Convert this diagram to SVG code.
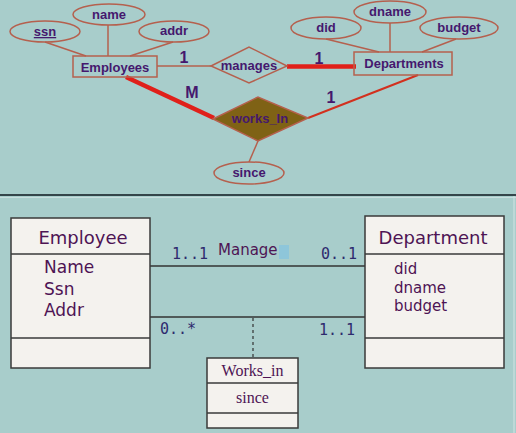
<svg xmlns="http://www.w3.org/2000/svg" width="516" height="433" viewBox="0 0 516 433">
<style>
.er{fill:none;stroke:#b5604e;stroke-width:1.5}
.erl{stroke:#b5604e;stroke-width:1.5;fill:none}
.thick{stroke:#e0201a;stroke-width:4.5;fill:none}
.t{font-family:"Liberation Sans",Arial,sans-serif;font-weight:bold;font-size:13px;fill:#45186e;text-anchor:middle}
.card{font-family:"Liberation Sans",Arial,sans-serif;font-weight:bold;font-size:16px;fill:#45186e;text-anchor:middle}
.box{fill:#f4f2ee;stroke:#3a3a3a;stroke-width:1.5}
.div{stroke:#3a3a3a;stroke-width:1.5}
.ut{font-family:"DejaVu Sans",Verdana,sans-serif;fill:#4e1454}
.mono{font-family:"DejaVu Sans Mono","Liberation Mono",monospace;font-size:15px;fill:#2e2a6e}
.ser{font-family:"Liberation Serif","Times New Roman",serif;font-size:16px;fill:#4e1454;text-anchor:middle}
.ln{stroke:#333;stroke-width:1.3}
</style>
<rect width="516" height="433" fill="#a8cdcb"/>
<line x1="0" y1="195" x2="516" y2="195" stroke="#34454a" stroke-width="2.2"/>
<line x1="0" y1="197.5" x2="516" y2="197.5" stroke="#c9dede" stroke-width="1"/>
<line x1="514" y1="196" x2="514" y2="433" stroke="#d2e4e3" stroke-width="1"/>

<g id="connectors">
<line class="erl" x1="45" y1="42" x2="86" y2="56"/>
<line class="erl" x1="108" y1="25" x2="108" y2="56"/>
<line class="erl" x1="173" y1="42" x2="130" y2="56"/>
<line class="erl" x1="326" y1="39" x2="379" y2="52"/>
<line class="erl" x1="390" y1="23" x2="390" y2="52"/>
<line class="erl" x1="456" y1="39" x2="422" y2="52"/>
<line class="erl" x1="157" y1="66" x2="211" y2="66"/>
<line class="thick" x1="287" y1="66.5" x2="356" y2="66.5"/>
<line class="thick" x1="126" y1="77" x2="214" y2="118"/>
<line stroke="#d2301e" stroke-width="2" x1="308" y1="118" x2="418" y2="75"/>
<line class="erl" x1="258" y1="141" x2="249" y2="162"/>
<line class="ln" x1="150" y1="266" x2="365" y2="266"/>
<line class="ln" x1="150" y1="317" x2="365" y2="317"/>
<line stroke="#333" stroke-width="1.2" stroke-dasharray="3,3" x1="253" y1="318" x2="253" y2="358"/>
</g>

<g id="ssn"><ellipse class="er" cx="45" cy="31.5" rx="35" ry="10.5"/><text class="t" x="45" y="36" text-decoration="underline">ssn</text></g>
<g id="name"><ellipse class="er" cx="109" cy="14.5" rx="36" ry="10.5"/><text class="t" x="109" y="19">name</text></g>
<g id="addr"><ellipse class="er" cx="174" cy="31.5" rx="35" ry="10.5"/><text class="t" x="174" y="35">addr</text></g>
<g id="Employees"><rect class="er" x="73" y="56" width="84" height="21"/><text class="t" x="115" y="71.5">Employees</text></g>
<g id="manages"><polygon class="er" points="211,66 249,47 287,66 249,83"/><text class="t" x="249" y="70">manages</text></g>
<g id="Departments"><rect class="er" x="354" y="52" width="98" height="23" fill="#a8cdcb"/><text class="t" x="404" y="68">Departments</text></g>
<g id="did"><ellipse class="er" cx="326" cy="28" rx="35" ry="11"/><text class="t" x="326" y="32">did</text></g>
<g id="dname"><ellipse class="er" cx="390" cy="12" rx="36" ry="11"/><text class="t" x="390" y="16">dname</text></g>
<g id="budget"><ellipse class="er" cx="459" cy="28" rx="39" ry="11"/><text class="t" x="459" y="32">budget</text></g>
<g id="works_In"><polygon points="213,119 258,97 308,118 258,141" fill="#7f6215" stroke="#b5604e" stroke-width="1.5"/><text class="t" x="260" y="123" fill="#3a1a40">works_In</text></g>
<g id="since"><ellipse class="er" cx="249" cy="173" rx="35" ry="11"/><text class="t" x="249" y="177">since</text></g>

<g id="er-labels">
<text class="card" x="184" y="63">1</text>
<text class="card" x="319" y="64">1</text>
<text class="card" x="192" y="98">M</text>
<text class="card" x="331" y="103">1</text>
</g>

<g id="Employee">
<rect class="box" x="11" y="218" width="139" height="150"/>
<line class="div" x1="11" y1="254" x2="150" y2="254"/>
<line class="div" x1="11" y1="338" x2="150" y2="338"/>
<text class="ut" x="83" y="244" font-size="18" text-anchor="middle">Employee</text>
<text class="ut" x="44" y="273" font-size="17">Name</text>
<text class="ut" x="44" y="295" font-size="17">Ssn</text>
<text class="ut" x="44" y="316" font-size="17">Addr</text>
</g>

<g id="Department">
<rect class="box" x="365" y="216" width="139" height="152"/>
<line class="div" x1="365" y1="254" x2="504" y2="254"/>
<line class="div" x1="365" y1="338" x2="504" y2="338"/>
<text class="ut" x="433" y="244" font-size="18" text-anchor="middle">Department</text>
<text class="ut" x="394" y="274" font-size="15">did</text>
<text class="ut" x="394" y="293" font-size="15">dname</text>
<text class="ut" x="394" y="311" font-size="15">budget</text>
</g>

<g id="Works_in">
<rect class="box" x="207" y="358" width="91" height="70"/>
<line class="div" x1="207" y1="383" x2="298" y2="383"/>
<line class="div" x1="207" y1="413" x2="298" y2="413"/>
<text class="ser" x="252.5" y="376">Works_in</text>
<text class="ser" x="252.5" y="403">since</text>
</g>

<g id="uml-labels">
<text class="mono" x="172" y="259">1..1</text>
<text class="ut" x="218" y="255" font-size="15">Manage</text>
<rect x="279" y="245" width="10" height="14" fill="#8ec6da"/>
<text class="mono" x="321" y="259">0..1</text>
<text class="mono" x="160" y="334">0..*</text>
<text class="mono" x="319" y="335">1..1</text>
</g>
</svg>
